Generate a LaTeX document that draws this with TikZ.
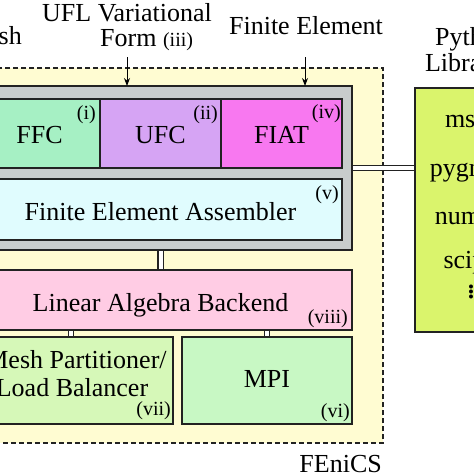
\documentclass[tikz,border=0pt]{standalone}
\usepackage{fontspec}
\setmainfont{Liberation Serif}
\usetikzlibrary{arrows.meta}
\pgfdeclarelayer{back}
\pgfdeclarelayer{mid}
\pgfsetlayers{back,mid,main}
\definecolor{fenicsbg}{RGB}{255,252,210}
\definecolor{graybg}{RGB}{200,204,204}
\definecolor{ffcbg}{RGB}{166,240,196}
\definecolor{ufcbg}{RGB}{214,164,244}
\definecolor{fiatbg}{RGB}{248,120,240}
\definecolor{feabg}{RGB}{224,252,254}
\definecolor{labbg}{RGB}{255,204,228}
\definecolor{meshbg}{RGB}{214,248,184}
\definecolor{mpibg}{RGB}{200,248,196}
\definecolor{pybg}{RGB}{218,244,108}
\definecolor{edge}{RGB}{34,34,34}
\begin{document}
\begin{tikzpicture}[x=1pt,y=-1pt,
  box/.style={draw=edge, line width=1.3pt, inner sep=0pt, outer sep=0pt},
  lbl/.style={font=\fontsize{26}{30}\selectfont, inner sep=0pt},
  tag/.style={font=\fontsize{20}{22}\selectfont, inner sep=0pt},
  dbl/.style={draw=edge, line width=1.4pt, double=white, double distance=4pt},
  arr/.style={draw=black, line width=1pt, -{Stealth[length=8pt,width=6pt]}}]
\useasboundingbox (0,0) rectangle (474,474);
\clip (0,0) rectangle (474,474);

% FEniCS dashed region
\begin{pgfonlayer}{back}
\fill[white] (0,0) rectangle (474,474);
\node[box, fill=fenicsbg, dash pattern=on 5pt off 3pt, minimum width=428pt, minimum height=375pt] (fenics) at (169,255.5) {};
\end{pgfonlayer}

% gray group and its boxes
\node[box, fill=graybg, minimum width=383pt, minimum height=164pt] (gray) at (160.5,168) {};
\node[box, fill=ffcbg, minimum width=121pt, minimum height=69pt] (ffc) at (39.5,133.5) {};
\node[box, fill=ufcbg, minimum width=121pt, minimum height=69pt] (ufc) at (160.5,133.5) {};
\node[box, fill=fiatbg, minimum width=121pt, minimum height=69pt] (fiat) at (281.5,133.5) {};
\node[box, fill=feabg, minimum width=363pt, minimum height=61pt] (fea) at (160.5,209.5) {};

\node[box, fill=labbg, minimum width=383pt, minimum height=60pt] (lab) at (160.5,300) {};
\node[box, fill=meshbg, minimum width=204pt, minimum height=87pt] (mesh) at (71,380.5) {};
\node[box, fill=mpibg, minimum width=170pt, minimum height=87pt] (mpi) at (267,380.5) {};

\node[box, fill=pybg, minimum width=114pt, minimum height=244pt] (py) at (472,210) {};

% box texts
\node[lbl, anchor=base] (tffc) at ([yshift=-9.5pt]ffc.center) {FFC};
\node[lbl, anchor=base] (tufc) at ([yshift=-9.5pt]ufc.center) {UFC};
\node[lbl, anchor=base] (tfiat) at ([yshift=-9.5pt]fiat.center) {FIAT};
\node[lbl, anchor=base] (tfea) at ([yshift=-10.5pt]fea.center) {Finite Element Assembler};
\node[lbl, anchor=base] (tlab) at ([yshift=-11pt]lab.center) {Linear Algebra Backend};
\node[lbl, anchor=base] (tmesh1) at ([xshift=5pt,yshift=12.5pt]mesh.center) {Mesh Partitioner/};
\node[lbl, anchor=base] (tmesh2) at ([xshift=1pt,yshift=-15.5pt]mesh.center) {Load Balancer};
\node[lbl, anchor=base] (tmpi) at ([yshift=-6.5pt]mpi.center) {MPI};

% tags
\node[tag, anchor=north east] (ti) at ([xshift=-4pt,yshift=-6pt]ffc.north east) {(i)};
\node[tag, anchor=north east] (tii) at ([xshift=-3pt,yshift=-6pt]ufc.north east) {(ii)};
\node[tag, anchor=north east] (tiv) at ([xshift=-1pt,yshift=-5pt]fiat.north east) {(iv)};
\node[tag, anchor=north east] (tv) at ([xshift=-3pt,yshift=-6pt]fea.north east) {(v)};
\node[tag, anchor=south east] (tviii) at ([xshift=-4pt,yshift=2pt]lab.south east) {(viii)};
\node[tag, anchor=south east] (tvii) at ([xshift=-2pt,yshift=4pt]mesh.south east) {(vii)};
\node[tag, anchor=south east] (tvi) at ([xshift=-2pt,yshift=2pt]mpi.south east) {(vi)};

% python libraries list
\node[lbl, anchor=base] (lmshr) at ([xshift=-1pt,yshift=83pt]py.center) {mshr};
\node[lbl, anchor=base] (lpygmsh) at ([xshift=-1pt,yshift=34pt]py.center) {pygmsh};
\node[lbl, anchor=base] (lnumpy) at ([xshift=-1pt,yshift=-14pt]py.center) {numpy};
\node[lbl, anchor=base] (lscipy) at ([xshift=-1pt,yshift=-58pt]py.center) {scipy};
\node[lbl, scale=1.3] (ldots) at ([xshift=-1pt,yshift=-78pt]py.center) {$\vdots$};

% titles
\node[lbl, anchor=base] (ufl) at (127,21) {UFL Variational};
\node[lbl, anchor=base west] (form) at (100,46) {Form {\fontsize{20}{22}\selectfont(iii)}};
\node[lbl, anchor=base] (fe) at (306,34) {Finite Element};
\node[lbl, anchor=base east] (meshttl) at (22,44) {Mesh};
\node[lbl, anchor=base] (pyttl) at (472,45) {Python};
\node[lbl, anchor=base] (pyttl2) at (472,71) {Libraries};
\node[lbl, anchor=base east] (fenicsttl) at (382,472) {FEniCS};

% arrows
\coordinate (ua) at (127,57);
\coordinate (fa) at (305,57);
\draw[arr] (ua) -- (ua |- gray.north);
\draw[arr] (fa) -- (fa |- gray.north);

% double connectors
\begin{pgfonlayer}{mid}
\draw[dbl] (gray.south) -- (lab.north);
\draw[dbl] (mesh.north) -- (mesh.north |- lab.south);
\draw[dbl] (mpi.north) -- (mpi.north |- lab.south);
\draw[dbl] (gray.east) -- (gray.east -| py.west);
\end{pgfonlayer}
\end{tikzpicture}
\end{document}
